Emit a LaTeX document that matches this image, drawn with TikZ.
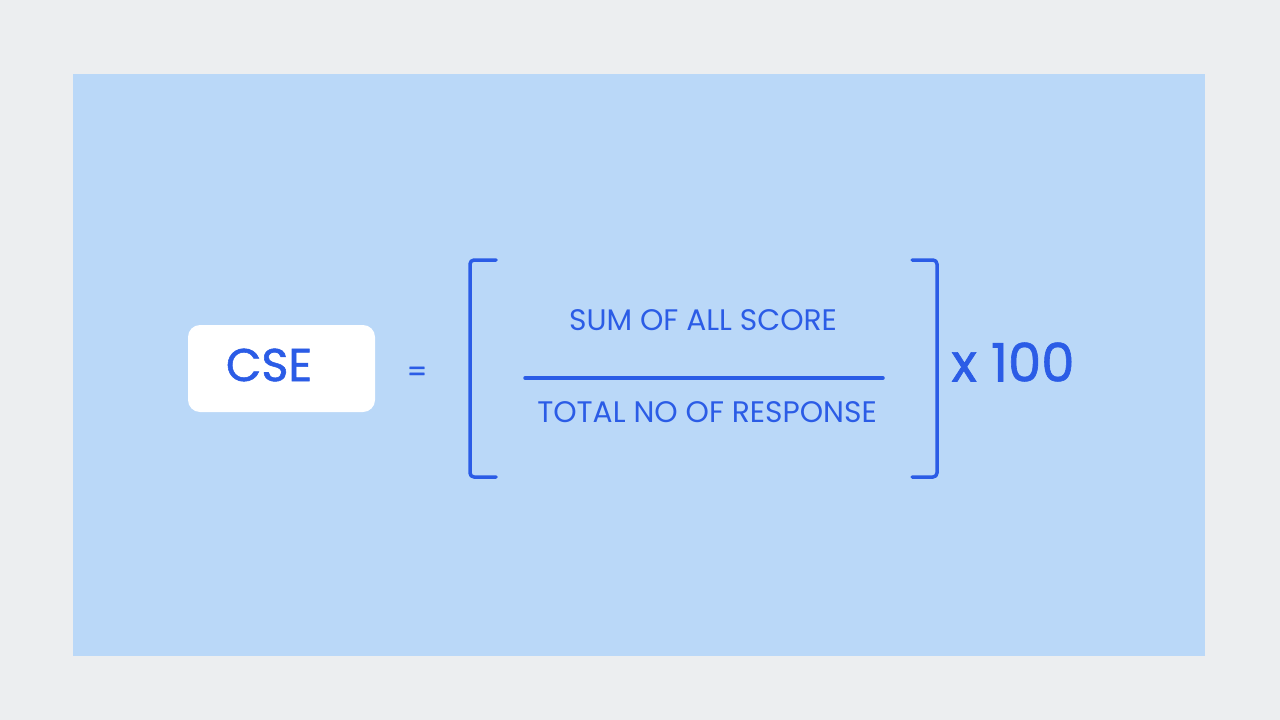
\documentclass[tikz,border=0pt]{standalone}
\usepackage{fontspec}
\setmainfont{Poppins}
\newfontfamily\medfont[FakeBold=1.2]{Poppins}
\definecolor{bg}{HTML}{ECEEF0}
\definecolor{panel}{HTML}{BAD8F8}
\definecolor{ink}{HTML}{2B5CE6}
\begin{document}
\begin{tikzpicture}[x=1pt,y=-1pt,
  txt/.style={text=ink,inner sep=0pt,anchor=center},
  brk/.style={draw=ink,line width=3.5pt,line cap=round,line join=round}]
\fill[bg] (0,0) rectangle (1280,720);
\useasboundingbox (0,0) rectangle (1280,720);
\fill[panel] (73,74) rectangle (1205,656);
\node[fill=white,rounded corners=12pt,minimum width=187pt,minimum height=87pt,inner sep=0pt] (box) at (281.5,368.5) {};
\node[txt,font=\medfont\fontsize{46}{50}\selectfont] (cse) at (269,365) {CSE};
\node[txt,font=\medfont\fontsize{28}{30}\selectfont] (eq) at (417,374) {=};
\coordinate (l1) at (496,260); \coordinate (l2) at (470,260);
\coordinate (l3) at (470,477); \coordinate (l4) at (496,477);
\draw[brk,rounded corners=4pt] (l1) -- (l2) -- (l3) -- (l4);
\coordinate (r1) at (912,260); \coordinate (r2) at (937,260);
\coordinate (r3) at (937,477); \coordinate (r4) at (912,477);
\draw[brk,rounded corners=4pt] (r1) -- (r2) -- (r3) -- (r4);
\coordinate (f1) at (525,378); \coordinate (f2) at (883,378);
\draw[brk] (f1) -- (f2);
\node[txt,font=\fontsize{29.7}{32}\selectfont] (num) at (703,320) {SUM OF ALL SCORE};
\node[txt,font=\fontsize{29.7}{32}\selectfont] (den) at (707,412) {TOTAL NO OF RESPONSE};
\node[txt,font=\medfont\fontsize{53}{56}\selectfont] (x) at (1013,362) {x 100};
\end{tikzpicture}
\end{document}
